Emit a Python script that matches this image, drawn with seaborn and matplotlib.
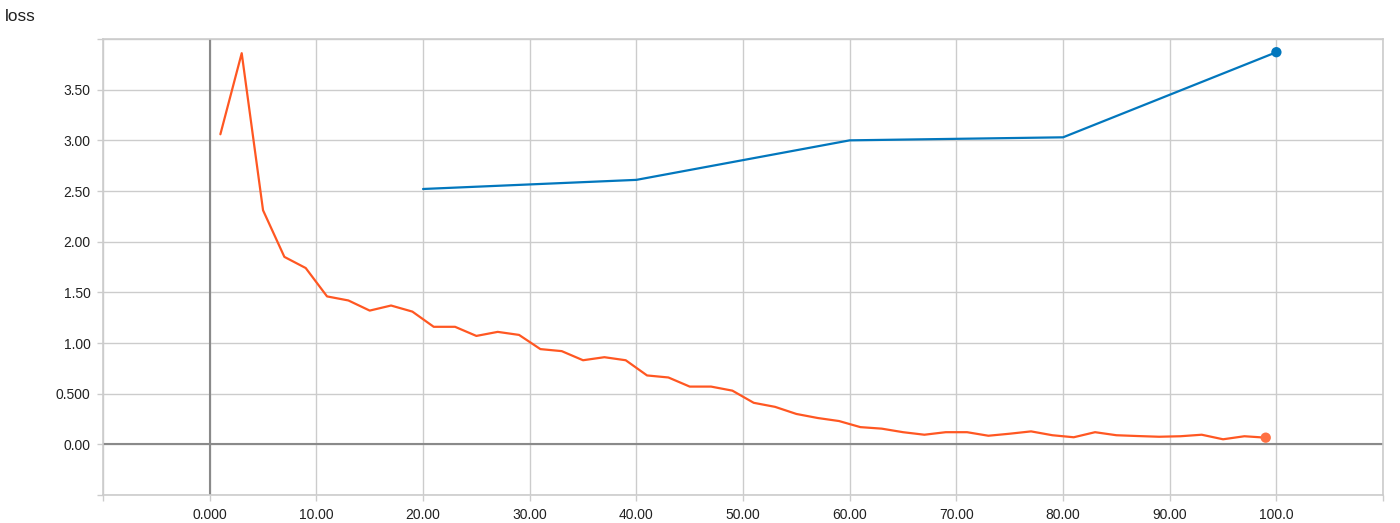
import numpy as np
import pandas as pd
import matplotlib
matplotlib.use("Agg")
import matplotlib.pyplot as plt
import seaborn as sns

# Data
train_step = list(range(1, 100, 2))
train_loss = [3.06, 3.86, 2.31, 1.85, 1.74, 1.46, 1.42, 1.32, 1.37, 1.31,
              1.16, 1.16, 1.07, 1.11, 1.08, 0.94, 0.92, 0.83, 0.86, 0.83,
              0.68, 0.66, 0.57, 0.57, 0.53, 0.41, 0.37, 0.30, 0.26, 0.23,
              0.17, 0.155, 0.12, 0.095, 0.12, 0.12, 0.085, 0.105, 0.128, 0.09,
              0.07, 0.12, 0.09, 0.082, 0.075, 0.08, 0.095, 0.05, 0.08, 0.066]
eval_step = [20, 40, 60, 80, 100]
eval_loss = [2.52, 2.61, 3.00, 3.03, 3.87]

x_ticks = [-10, 0, 10, 20, 30, 40, 50, 60, 70, 80, 90, 100, 110]
x_labels = ["", "0.000", "10.00", "20.00", "30.00", "40.00", "50.00",
            "60.00", "70.00", "80.00", "90.00", "100.0", ""]
y_ticks = [-0.5, 0.0, 0.5, 1.0, 1.5, 2.0, 2.5, 3.0, 3.5, 4.0]
y_labels = ["", "0.00", "0.500", "1.00", "1.50", "2.00", "2.50", "3.00", "3.50", ""]

train = pd.DataFrame({"step": train_step, "loss": train_loss})
evals = pd.DataFrame({"step": eval_step, "loss": eval_loss})

sns.set_style("white")
plt.rcParams["font.family"] = ["Liberation Sans", "DejaVu Sans"]

orange = "#ff5722"
blue = "#0277bd"
grid_c = "#cccccc"

fig = plt.figure(figsize=(14, 5.23), dpi=100)
ax = fig.add_axes([0.0736, 0.0535, 0.9143, 0.8719])

ax.set_xlim(-10, 110)
ax.set_ylim(-0.5, 4.0)
ax.set_xticks(x_ticks)
ax.set_xticklabels(x_labels)
ax.set_yticks(y_ticks)
ax.set_yticklabels(y_labels)
ax.grid(True, color=grid_c, linewidth=1.0, zorder=0)
ax.tick_params(axis="both", bottom=True, left=True, colors=grid_c,
               labelcolor="#212121", labelsize=10, length=4.5, width=1.0)
ax.tick_params(axis="y", pad=4.5)
ax.tick_params(axis="x", pad=5)
for s in ax.spines.values():
    s.set_color(grid_c)
    s.set_linewidth(1.2)

# zero lines
ax.axhline(0, color="#8a8a8a", linewidth=1.5, zorder=1)
ax.axvline(0, color="#8a8a8a", linewidth=1.5, zorder=1)

sns.lineplot(data=train, x="step", y="loss", color=orange, linewidth=1.6, ax=ax, zorder=3)
sns.lineplot(data=evals, x="step", y="loss", color=blue, linewidth=1.6, ax=ax, zorder=3)
sns.scatterplot(data=train.tail(1), x="step", y="loss", color="#ff7043", s=55,
                edgecolor="none", ax=ax, zorder=4)
sns.scatterplot(data=evals.tail(1), x="step", y="loss", color=blue, s=55,
                edgecolor="none", ax=ax, zorder=4)

ax.set_xlabel("")
ax.set_ylabel("")
fig.text(0.0036, 0.968, "loss", fontsize=12.4, color="#212121", va="center", ha="left")

fig.savefig("out.png", dpi=100)
